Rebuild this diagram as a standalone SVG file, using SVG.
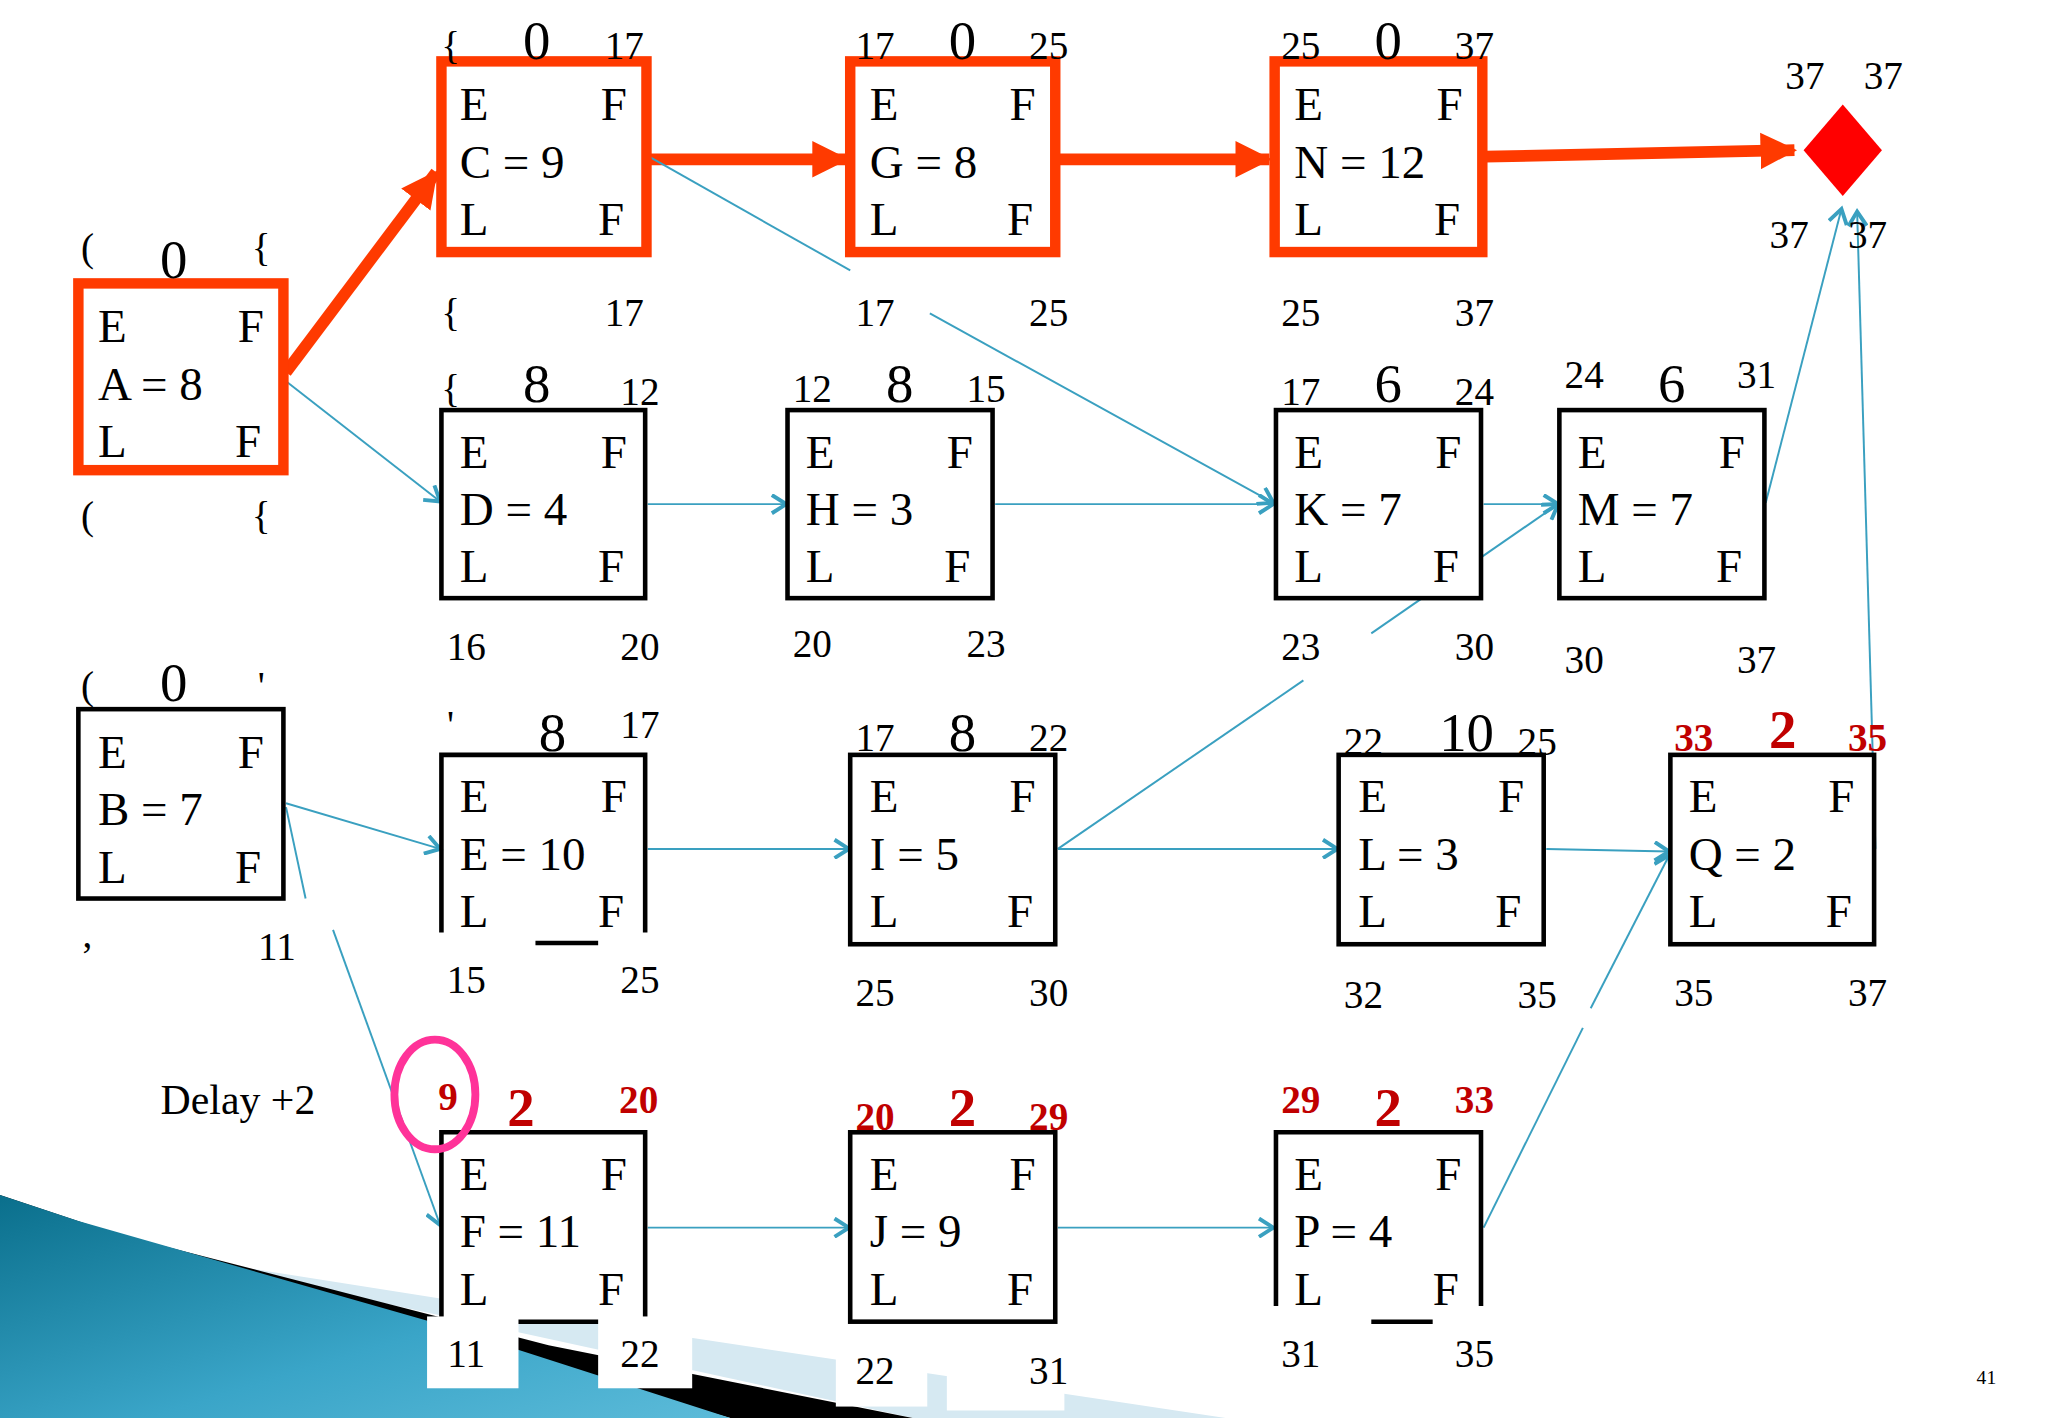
<svg xmlns="http://www.w3.org/2000/svg" width="2048" height="1418" viewBox="0 0 2048 1418">
<style>
.t{font-family:"Liberation Serif",serif;font-size:36px;fill:#000}
.n{font-family:"Liberation Serif",serif;font-size:30px;fill:#000}
.b{font-family:"Liberation Serif",serif;font-size:42px;fill:#000}
.rn{font-family:"Liberation Serif",serif;font-size:30px;font-weight:bold;fill:#c00000}
.rb{font-family:"Liberation Serif",serif;font-size:42px;font-weight:bold;fill:#c00000}
.e{text-anchor:end}.m{text-anchor:middle}
.bx{fill:#fff;stroke:#000;stroke-width:3.5}
.rx{fill:#fff;stroke:#ff3a00;stroke-width:8}
.bl{stroke:#3aa0c0;stroke-width:1.5;fill:none;marker-end:url(#ab)}
.bn{stroke:#3aa0c0;stroke-width:1.5;fill:none}
.rd{stroke:#ff3a00;stroke-width:9;fill:none;marker-end:url(#ar)}
</style>
<defs>
<marker id="ab" markerWidth="16" markerHeight="16" refX="13" refY="8" orient="auto" markerUnits="userSpaceOnUse"><path d="M2,1 L13,8 L2,15" fill="none" stroke="#3aa0c0" stroke-width="3"/></marker>
<marker id="ar" markerWidth="30" markerHeight="30" refX="26" refY="15" orient="auto" markerUnits="userSpaceOnUse"><path d="M0,1 L28,15 L0,29 Z" fill="#ff3a00"/></marker>
<linearGradient id="sw" x1="0" y1="0" x2="1" y2="1"><stop offset="0" stop-color="#0a6f8c"/><stop offset="0.6" stop-color="#3aa5c8"/><stop offset="1" stop-color="#5cbbd9"/></linearGradient>
</defs>
<rect width="2048" height="1418" fill="#fff"/>
<g transform="scale(1.306)">
<g id="swoosh">
<polygon points="120,960 500,1020 940,1086 700,1086" fill="#d6e9f2"/>
<polygon points="0,915 90,945 420,1030 700,1086 560,1086 0,930" fill="#000"/>
<polygon points="0,915 60,935 330,1012 560,1086 0,1086" fill="url(#sw)"/>
</g>
<g id="connectors">
<path class="rd" d="M219,285 L334,132"/>
<path class="rd" d="M497,122 L648,122"/>
<path class="rd" d="M810,122 L972,122"/>
<path class="rd" d="M1137,120 L1374,115"/>
<path class="bn" d="M497,120 L651,207"/>
<path class="bl" d="M712,240 L975,385"/>
<path class="bl" d="M219,292 L337,384"/>
<path class="bl" d="M496,386 L602,386"/>
<path class="bl" d="M762,386 L975,386"/>
<path class="bl" d="M1136,386 L1193,386"/>
<path class="bn" d="M810,650 L998,521"/>
<path class="bl" d="M1050,485 L1193,386"/>
<path class="bl" d="M1352,385 L1410,160"/>
<path class="bl" d="M1436,650 L1422,162"/>
<path class="bl" d="M219,615 L337,650"/>
<path class="bn" d="M219,618 L234,688"/>
<path class="bl" d="M255,712 L337,938"/>
<path class="bl" d="M496,650 L650,650"/>
<path class="bl" d="M810,650 L1024,650"/>
<path class="bl" d="M1184,650 L1278,652"/>
<path class="bl" d="M496,940 L650,940"/>
<path class="bl" d="M810,940 L975,940"/>
<path class="bn" d="M1136,940 L1212,787"/>
<path class="bl" d="M1218,772 L1278,655"/>
</g>
<g id="A"><rect class="rx" x="60" y="217" width="157" height="143"/><text class="t" x="75" y="262">E</text><text class="t e" x="202" y="262">F</text><text class="t" x="75" y="306">A = 8</text><text class="t" x="75" y="350">L</text><text class="t e" x="200" y="350">F</text>
<text class="n m" x="67" y="200">(</text><text class="b m" x="133" y="213">0</text><text class="n m" x="200" y="200">{</text><text class="n m" x="67" y="405">(</text><text class="n m" x="200" y="405">{</text></g>
<g id="C"><rect class="rx" x="338" y="47" width="157" height="146"/><text class="t" x="352" y="92">E</text><text class="t e" x="480" y="92">F</text><text class="t" x="352" y="136">C = 9</text><text class="t" x="352" y="180">L</text><text class="t e" x="478" y="180">F</text>
<text class="n m" x="345" y="45">{</text><text class="b m" x="411" y="45">0</text><text class="n m" x="478" y="45">17</text><text class="n m" x="345" y="250">{</text><text class="n m" x="478" y="250">17</text></g>
<g id="G"><rect class="rx" x="651" y="47" width="157" height="146"/><text class="t" x="666" y="92">E</text><text class="t e" x="793" y="92">F</text><text class="t" x="666" y="136">G = 8</text><text class="t" x="666" y="180">L</text><text class="t e" x="791" y="180">F</text>
<text class="n m" x="670" y="45">17</text><text class="b m" x="737" y="45">0</text><text class="n m" x="803" y="45">25</text><text class="n m" x="670" y="250">17</text><text class="n m" x="803" y="250">25</text></g>
<g id="N"><rect class="rx" x="976" y="47" width="159" height="146"/><text class="t" x="991" y="92">E</text><text class="t e" x="1120" y="92">F</text><text class="t" x="991" y="136">N = 12</text><text class="t" x="991" y="180">L</text><text class="t e" x="1118" y="180">F</text>
<text class="n m" x="996" y="45">25</text><text class="b m" x="1063" y="45">0</text><text class="n m" x="1129" y="45">37</text><text class="n m" x="996" y="250">25</text><text class="n m" x="1129" y="250">37</text></g>
<g id="END"><polygon points="1411,80 1441,115 1411,150 1381,115" fill="#ff0000"/><text class="n m" x="1382" y="68">37</text><text class="n m" x="1442" y="68">37</text><text class="n m" x="1370" y="190">37</text><text class="n m" x="1430" y="190">37</text></g>
<g id="D"><rect class="bx" x="338" y="314" width="156" height="144"/><text class="t" x="352" y="358">E</text><text class="t e" x="480" y="358">F</text><text class="t" x="352" y="402">D = 4</text><text class="t" x="352" y="446">L</text><text class="t e" x="478" y="446">F</text>
<text class="n m" x="345" y="308">{</text><text class="b m" x="411" y="308">8</text><text class="n m" x="490" y="310">12</text><text class="n m" x="357" y="505">16</text><text class="n m" x="490" y="505">20</text></g>
<g id="H"><rect class="bx" x="603" y="314" width="157" height="144"/><text class="t" x="617" y="358">E</text><text class="t e" x="745" y="358">F</text><text class="t" x="617" y="402">H = 3</text><text class="t" x="617" y="446">L</text><text class="t e" x="743" y="446">F</text>
<text class="n m" x="622" y="308">12</text><text class="b m" x="689" y="308">8</text><text class="n m" x="755" y="308">15</text><text class="n m" x="622" y="503">20</text><text class="n m" x="755" y="503">23</text></g>
<g id="K"><rect class="bx" x="977" y="314" width="157" height="144"/><text class="t" x="991" y="358">E</text><text class="t e" x="1119" y="358">F</text><text class="t" x="991" y="402">K = 7</text><text class="t" x="991" y="446">L</text><text class="t e" x="1117" y="446">F</text>
<text class="n m" x="996" y="310">17</text><text class="b m" x="1063" y="308">6</text><text class="n m" x="1129" y="310">24</text><text class="n m" x="996" y="505">23</text><text class="n m" x="1129" y="505">30</text></g>
<g id="M"><rect class="bx" x="1194" y="314" width="157" height="144"/><text class="t" x="1208" y="358">E</text><text class="t e" x="1336" y="358">F</text><text class="t" x="1208" y="402">M = 7</text><text class="t" x="1208" y="446">L</text><text class="t e" x="1334" y="446">F</text>
<text class="n m" x="1213" y="297">24</text><text class="b m" x="1280" y="308">6</text><text class="n m" x="1345" y="297">31</text><text class="n m" x="1213" y="515">30</text><text class="n m" x="1345" y="515">37</text></g>
<g id="B"><rect class="bx" x="60" y="543" width="157" height="145"/><text class="t" x="75" y="588">E</text><text class="t e" x="202" y="588">F</text><text class="t" x="75" y="632">B = 7</text><text class="t" x="75" y="676">L</text><text class="t e" x="200" y="676">F</text>
<text class="n m" x="67" y="535">(</text><text class="b m" x="133" y="537">0</text><text class="n m" x="200" y="535">'</text><text class="n m" x="67" y="725">,</text><text class="n m" x="212" y="735">11</text></g>
<g id="E"><path d="M338,714 L338,578 L494,578 L494,714 M410,722 L458,722" fill="none" stroke="#000" stroke-width="3.5"/><text class="t" x="352" y="622">E</text><text class="t e" x="480" y="622">F</text><text class="t" x="352" y="666">E = 10</text><text class="t" x="352" y="710">L</text><text class="t e" x="478" y="710">F</text>
<text class="n m" x="345" y="565">'</text><text class="b m" x="423" y="575">8</text><text class="n m" x="490" y="565">17</text><text class="n m" x="357" y="760">15</text><text class="n m" x="490" y="760">25</text></g>
<g id="I"><rect class="bx" x="651" y="578" width="157" height="145"/><text class="t" x="666" y="622">E</text><text class="t e" x="793" y="622">F</text><text class="t" x="666" y="666">I = 5</text><text class="t" x="666" y="710">L</text><text class="t e" x="791" y="710">F</text>
<text class="n m" x="670" y="575">17</text><text class="b m" x="737" y="575">8</text><text class="n m" x="803" y="575">22</text><text class="n m" x="670" y="770">25</text><text class="n m" x="803" y="770">30</text></g>
<g id="L"><rect class="bx" x="1025" y="578" width="157" height="145"/><text class="t" x="1040" y="622">E</text><text class="t e" x="1167" y="622">F</text><text class="t" x="1040" y="666">L = 3</text><text class="t" x="1040" y="710">L</text><text class="t e" x="1165" y="710">F</text>
<text class="n m" x="1044" y="578">22</text><text class="b m" x="1123" y="575">10</text><text class="n m" x="1177" y="578">25</text><text class="n m" x="1044" y="772">32</text><text class="n m" x="1177" y="772">35</text></g>
<g id="Q"><rect class="bx" x="1279" y="578" width="156" height="145"/><text class="t" x="1293" y="622">E</text><text class="t e" x="1420" y="622">F</text><text class="t" x="1293" y="666">Q = 2</text><text class="t" x="1293" y="710">L</text><text class="t e" x="1418" y="710">F</text>
<text class="rn m" x="1297" y="575">33</text><text class="rb m" x="1365" y="573">2</text><text class="rn m" x="1430" y="575">35</text><text class="n m" x="1297" y="770">35</text><text class="n m" x="1430" y="770">37</text></g>
<g id="Fnode"><rect x="338" y="867" width="156" height="145" fill="#fff"/><path d="M338,1012 L338,867 L494,867 L494,1012 M338,1012 L494,1012" fill="none" stroke="#000" stroke-width="3.5"/><text class="t" x="352" y="911">E</text><text class="t e" x="480" y="911">F</text><text class="t" x="352" y="955">F = 11</text><text class="t" x="352" y="999">L</text><text class="t e" x="478" y="999">F</text>
<rect x="327" y="1008" width="70" height="55" fill="#fff"/><rect x="458" y="1008" width="72" height="55" fill="#fff"/>
<text class="rn m" x="343" y="850">9</text><text class="rb m" x="399" y="862">2</text><text class="rn m" x="489" y="852">20</text><text class="n m" x="357" y="1047">11</text><text class="n m" x="490" y="1047">22</text></g>
<g id="J"><rect class="bx" x="651" y="867" width="157" height="145"/><text class="t" x="666" y="911">E</text><text class="t e" x="793" y="911">F</text><text class="t" x="666" y="955">J = 9</text><text class="t" x="666" y="999">L</text><text class="t e" x="791" y="999">F</text>
<rect x="640" y="1022" width="70" height="55" fill="#fff"/><rect x="725" y="1050" width="90" height="30" fill="#fff"/>
<text class="rn m" x="670" y="865">20</text><text class="rb m" x="737" y="862">2</text><text class="rn m" x="803" y="865">29</text><text class="n m" x="670" y="1060">22</text><text class="n m" x="803" y="1060">31</text></g>
<g id="P"><path d="M977,1000 L977,867 L1134,867 L1134,1000 M1050,1012 L1097,1012" fill="none" stroke="#000" stroke-width="3.5"/><text class="t" x="991" y="911">E</text><text class="t e" x="1119" y="911">F</text><text class="t" x="991" y="955">P = 4</text><text class="t" x="991" y="999">L</text><text class="t e" x="1117" y="999">F</text>
<text class="rn m" x="996" y="852">29</text><text class="rb m" x="1063" y="862">2</text><text class="rn m" x="1129" y="852">33</text><text class="n m" x="996" y="1047">31</text><text class="n m" x="1129" y="1047">35</text></g>
<g id="delay"><text class="t" x="123" y="853" style="font-size:32px">Delay +2</text><ellipse cx="333" cy="838" rx="31" ry="42" fill="none" stroke="#ff3399" stroke-width="6"/></g>
<text x="1521" y="1060" class="m" style="font-family:'Liberation Serif',serif;font-size:15px">41</text>
</g>
</svg>
